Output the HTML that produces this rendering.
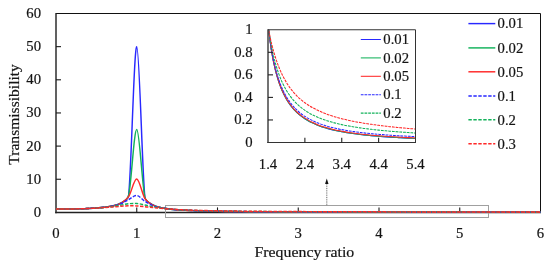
<!DOCTYPE html>
<html><head><meta charset="utf-8"><style>html,body{margin:0;padding:0;background:#fff;width:550px;height:266px;overflow:hidden}svg{display:block}</style></head><body>
<svg width="550" height="266" viewBox="0 0 550 266" font-family='"Liberation Serif", serif' fill="#141414">
<style>text{stroke:#141414;stroke-width:0.2px}</style>
<rect width="550" height="266" fill="#fff"/>
<defs><clipPath id="ic"><rect x="268.0" y="29.75" width="147.5" height="112.75"/></clipPath></defs>
<path d="M56.0,13.5 H540.5 V212.4" fill="none" stroke="#111" stroke-width="1"/>
<line x1="56.0" y1="13.0" x2="56.0" y2="213.20000000000002" stroke="#1e1e1e" stroke-width="1.4"/>
<line x1="55.2" y1="212.4" x2="541.0" y2="212.4" stroke="#222" stroke-width="1.5"/>
<line x1="56.0" y1="179.25" x2="61.0" y2="179.25" stroke="#1a1a1a" stroke-width="1.1"/>
<line x1="56.0" y1="146.10" x2="61.0" y2="146.10" stroke="#1a1a1a" stroke-width="1.1"/>
<line x1="56.0" y1="112.95" x2="61.0" y2="112.95" stroke="#1a1a1a" stroke-width="1.1"/>
<line x1="56.0" y1="79.80" x2="61.0" y2="79.80" stroke="#1a1a1a" stroke-width="1.1"/>
<line x1="56.0" y1="46.65" x2="61.0" y2="46.65" stroke="#1a1a1a" stroke-width="1.1"/>
<line x1="136.75" y1="212.4" x2="136.75" y2="207.4" stroke="#1a1a1a" stroke-width="1.1"/>
<line x1="217.50" y1="212.4" x2="217.50" y2="207.4" stroke="#1a1a1a" stroke-width="1.1"/>
<line x1="298.25" y1="212.4" x2="298.25" y2="207.4" stroke="#1a1a1a" stroke-width="1.1"/>
<line x1="379.00" y1="212.4" x2="379.00" y2="207.4" stroke="#1a1a1a" stroke-width="1.1"/>
<line x1="459.75" y1="212.4" x2="459.75" y2="207.4" stroke="#1a1a1a" stroke-width="1.1"/>
<rect x="165.5" y="205.5" width="323" height="12" fill="none" stroke="#a0a0a0" stroke-width="1"/>
<g><path d="M56.00,209.09 C58.69,209.07 61.38,209.07 64.08,209.05 C66.77,209.03 69.46,209.00 72.15,208.95 C74.84,208.90 77.53,208.84 80.22,208.76 C82.92,208.67 85.61,208.58 88.30,208.45 C90.99,208.32 93.68,208.19 96.38,207.98 C99.07,207.77 101.76,207.57 104.45,207.22 C107.14,206.87 109.83,206.57 112.53,205.90 C115.22,205.23 117.91,205.01 120.60,203.20 C123.29,201.39 128.09,200.74 128.68,195.03 C131.37,168.93 134.06,46.34 136.75,46.62 C139.44,46.89 142.13,170.32 144.82,196.70 C145.41,202.41 150.21,203.06 152.90,204.87 C155.59,206.69 158.28,206.92 160.98,207.60 C163.67,208.28 166.36,208.59 169.05,208.95 C171.74,209.31 174.43,209.53 177.12,209.75 C179.82,209.97 182.51,210.12 185.20,210.27 C187.89,210.42 190.58,210.54 193.28,210.65 C195.97,210.75 198.66,210.84 201.35,210.92 C204.04,211.00 206.73,211.07 209.42,211.13 C212.12,211.19 214.81,211.24 217.50,211.29 C220.19,211.34 222.88,211.39 225.58,211.43 C228.27,211.47 230.96,211.50 233.65,211.54 C236.34,211.57 239.03,211.60 241.72,211.63 C244.42,211.65 247.11,211.68 249.80,211.70 C252.49,211.73 255.18,211.75 257.88,211.77 C260.57,211.79 263.26,211.81 265.95,211.82 C268.64,211.84 271.33,211.86 274.02,211.87 C276.72,211.89 279.41,211.90 282.10,211.91 C284.79,211.93 287.48,211.94 290.17,211.95 C292.87,211.96 295.56,211.97 298.25,211.98 C300.94,212.00 303.63,212.00 306.33,212.01 C309.02,212.02 311.71,212.03 314.40,212.04 C317.09,212.05 319.78,212.06 322.47,212.06 C325.17,212.07 327.86,212.08 330.55,212.09 C333.24,212.09 335.93,212.10 338.62,212.10 C341.32,212.11 344.01,212.12 346.70,212.12 C349.39,212.13 352.08,212.13 354.78,212.14 C357.47,212.14 360.16,212.15 362.85,212.15 C365.54,212.16 368.23,212.16 370.93,212.17 C373.62,212.17 376.31,212.17 379.00,212.18 C381.69,212.18 384.38,212.19 387.07,212.19 C389.77,212.19 392.46,212.20 395.15,212.20 C397.84,212.20 400.53,212.21 403.22,212.21 C405.92,212.21 408.61,212.22 411.30,212.22 C413.99,212.22 416.68,212.22 419.38,212.23 C422.07,212.23 424.76,212.23 427.45,212.23 C430.14,212.24 432.83,212.24 435.53,212.24 C438.22,212.24 440.91,212.25 443.60,212.25 C446.29,212.25 448.98,212.25 451.68,212.26 C454.37,212.26 457.06,212.26 459.75,212.26 C462.44,212.26 465.13,212.26 467.82,212.27 C470.52,212.27 473.21,212.27 475.90,212.27 C478.59,212.27 481.28,212.28 483.97,212.28 C486.67,212.28 489.36,212.28 492.05,212.28 C494.74,212.28 497.43,212.28 500.12,212.29 C502.82,212.29 505.51,212.29 508.20,212.29 C510.89,212.29 513.58,212.29 516.28,212.29 C518.97,212.30 521.66,212.30 524.35,212.30 C527.04,212.30 529.73,212.30 532.42,212.30 C535.12,212.30 537.81,212.30 540.50,212.30" stroke="#2828ff" stroke-width="1.45" fill="none"/>
<path d="M56.00,209.09 C58.69,209.07 61.38,209.07 64.08,209.05 C66.77,209.03 69.46,209.00 72.15,208.95 C74.84,208.90 77.53,208.84 80.22,208.76 C82.92,208.68 85.61,208.58 88.30,208.45 C90.99,208.32 93.68,208.19 96.38,207.98 C99.07,207.78 101.76,207.57 104.45,207.22 C107.14,206.88 109.83,206.57 112.53,205.91 C115.22,205.24 117.91,205.00 120.60,203.22 C123.29,201.45 127.46,200.79 128.68,195.25 C131.37,182.95 134.06,129.18 136.75,129.46 C139.44,129.74 142.13,184.36 144.82,196.93 C146.01,202.48 150.21,203.12 152.90,204.90 C155.59,206.68 158.28,206.93 160.98,207.60 C163.67,208.28 166.36,208.59 169.05,208.95 C171.74,209.30 174.43,209.53 177.12,209.75 C179.82,209.97 182.51,210.12 185.20,210.27 C187.89,210.42 190.58,210.54 193.28,210.64 C195.97,210.75 198.66,210.84 201.35,210.92 C204.04,211.00 206.73,211.06 209.42,211.13 C212.12,211.19 214.81,211.24 217.50,211.29 C220.19,211.34 222.88,211.38 225.58,211.42 C228.27,211.47 230.96,211.50 233.65,211.53 C236.34,211.57 239.03,211.60 241.72,211.62 C244.42,211.65 247.11,211.68 249.80,211.70 C252.49,211.72 255.18,211.75 257.88,211.77 C260.57,211.79 263.26,211.80 265.95,211.82 C268.64,211.84 271.33,211.85 274.02,211.87 C276.72,211.89 279.41,211.90 282.10,211.91 C284.79,211.93 287.48,211.94 290.17,211.95 C292.87,211.96 295.56,211.97 298.25,211.98 C300.94,211.99 303.63,212.00 306.33,212.01 C309.02,212.02 311.71,212.03 314.40,212.04 C317.09,212.05 319.78,212.05 322.47,212.06 C325.17,212.07 327.86,212.08 330.55,212.08 C333.24,212.09 335.93,212.10 338.62,212.10 C341.32,212.11 344.01,212.11 346.70,212.12 C349.39,212.13 352.08,212.13 354.78,212.14 C357.47,212.14 360.16,212.15 362.85,212.15 C365.54,212.16 368.23,212.16 370.93,212.16 C373.62,212.17 376.31,212.17 379.00,212.18 C381.69,212.18 384.38,212.18 387.07,212.19 C389.77,212.19 392.46,212.19 395.15,212.20 C397.84,212.20 400.53,212.20 403.22,212.21 C405.92,212.21 408.61,212.21 411.30,212.22 C413.99,212.22 416.68,212.22 419.38,212.23 C422.07,212.23 424.76,212.23 427.45,212.23 C430.14,212.24 432.83,212.24 435.53,212.24 C438.22,212.24 440.91,212.24 443.60,212.25 C446.29,212.25 448.98,212.25 451.68,212.25 C454.37,212.26 457.06,212.26 459.75,212.26 C462.44,212.26 465.13,212.26 467.82,212.26 C470.52,212.27 473.21,212.27 475.90,212.27 C478.59,212.27 481.28,212.27 483.97,212.27 C486.67,212.28 489.36,212.28 492.05,212.28 C494.74,212.28 497.43,212.28 500.12,212.28 C502.82,212.29 505.51,212.29 508.20,212.29 C510.89,212.29 513.58,212.29 516.28,212.29 C518.97,212.29 521.66,212.29 524.35,212.30 C527.04,212.30 529.73,212.30 532.42,212.30 C535.12,212.30 537.81,212.30 540.50,212.30" stroke="#12b25a" stroke-width="1.45" fill="none"/>
<path d="M56.00,209.09 C58.69,209.07 61.38,209.07 64.08,209.05 C66.77,209.03 69.46,209.00 72.15,208.95 C74.84,208.90 77.53,208.84 80.22,208.76 C82.92,208.68 85.61,208.58 88.30,208.45 C90.99,208.33 93.68,208.19 96.38,207.98 C99.07,207.78 101.76,207.57 104.45,207.23 C107.14,206.89 109.83,206.59 112.53,205.94 C115.22,205.30 117.91,204.94 120.60,203.38 C123.29,201.82 125.98,200.62 128.68,196.57 C131.37,192.52 134.06,178.79 136.75,179.08 C139.44,179.38 142.13,194.00 144.82,198.33 C147.52,202.66 150.21,203.53 152.90,205.08 C155.59,206.63 158.28,206.99 160.98,207.64 C163.67,208.28 166.36,208.60 169.05,208.95 C171.74,209.30 174.43,209.52 177.12,209.74 C179.82,209.96 182.51,210.11 185.20,210.26 C187.89,210.41 190.58,210.52 193.28,210.63 C195.97,210.74 198.66,210.82 201.35,210.90 C204.04,210.98 206.73,211.05 209.42,211.11 C212.12,211.17 214.81,211.23 217.50,211.28 C220.19,211.33 222.88,211.37 225.58,211.41 C228.27,211.45 230.96,211.48 233.65,211.52 C236.34,211.55 239.03,211.58 241.72,211.61 C244.42,211.64 247.11,211.66 249.80,211.68 C252.49,211.71 255.18,211.73 257.88,211.75 C260.57,211.77 263.26,211.79 265.95,211.81 C268.64,211.82 271.33,211.84 274.02,211.85 C276.72,211.87 279.41,211.88 282.10,211.90 C284.79,211.91 287.48,211.92 290.17,211.93 C292.87,211.95 295.56,211.96 298.25,211.97 C300.94,211.98 303.63,211.99 306.33,212.00 C309.02,212.01 311.71,212.02 314.40,212.02 C317.09,212.03 319.78,212.04 322.47,212.05 C325.17,212.05 327.86,212.06 330.55,212.07 C333.24,212.08 335.93,212.08 338.62,212.09 C341.32,212.09 344.01,212.10 346.70,212.11 C349.39,212.11 352.08,212.12 354.78,212.12 C357.47,212.13 360.16,212.13 362.85,212.14 C365.54,212.14 368.23,212.15 370.93,212.15 C373.62,212.15 376.31,212.16 379.00,212.16 C381.69,212.17 384.38,212.17 387.07,212.17 C389.77,212.18 392.46,212.18 395.15,212.18 C397.84,212.19 400.53,212.19 403.22,212.19 C405.92,212.20 408.61,212.20 411.30,212.20 C413.99,212.21 416.68,212.21 419.38,212.21 C422.07,212.21 424.76,212.22 427.45,212.22 C430.14,212.22 432.83,212.22 435.53,212.23 C438.22,212.23 440.91,212.23 443.60,212.23 C446.29,212.24 448.98,212.24 451.68,212.24 C454.37,212.24 457.06,212.24 459.75,212.25 C462.44,212.25 465.13,212.25 467.82,212.25 C470.52,212.25 473.21,212.25 475.90,212.26 C478.59,212.26 481.28,212.26 483.97,212.26 C486.67,212.26 489.36,212.26 492.05,212.27 C494.74,212.27 497.43,212.27 500.12,212.27 C502.82,212.27 505.51,212.27 508.20,212.27 C510.89,212.28 513.58,212.28 516.28,212.28 C518.97,212.28 521.66,212.28 524.35,212.28 C527.04,212.28 529.73,212.29 532.42,212.29 C535.12,212.29 537.81,212.29 540.50,212.29" stroke="#ff2828" stroke-width="1.45" fill="none"/>
<path d="M56.00,209.09 C58.69,209.07 61.38,209.07 64.08,209.05 C66.77,209.03 69.46,209.00 72.15,208.95 C74.84,208.90 77.53,208.84 80.22,208.76 C82.92,208.68 85.61,208.59 88.30,208.46 C90.99,208.33 93.68,208.19 96.38,208.00 C99.07,207.80 101.76,207.59 104.45,207.27 C107.14,206.95 109.83,206.64 112.53,206.07 C115.22,205.51 117.91,204.97 120.60,203.88 C123.29,202.79 125.98,200.93 128.68,199.53 C131.37,198.13 134.06,195.21 136.75,195.50 C139.44,195.78 142.13,199.56 144.82,201.24 C147.52,202.92 150.21,204.51 152.90,205.60 C155.59,206.68 158.28,207.19 160.98,207.75 C163.67,208.31 166.36,208.63 169.05,208.96 C171.74,209.28 174.43,209.50 177.12,209.71 C179.82,209.92 182.51,210.07 185.20,210.21 C187.89,210.36 190.58,210.47 193.28,210.58 C195.97,210.68 198.66,210.77 201.35,210.85 C204.04,210.93 206.73,210.99 209.42,211.06 C212.12,211.12 214.81,211.17 217.50,211.22 C220.19,211.27 222.88,211.31 225.58,211.35 C228.27,211.39 230.96,211.43 233.65,211.46 C236.34,211.50 239.03,211.53 241.72,211.55 C244.42,211.58 247.11,211.61 249.80,211.63 C252.49,211.66 255.18,211.68 257.88,211.70 C260.57,211.72 263.26,211.74 265.95,211.75 C268.64,211.77 271.33,211.79 274.02,211.80 C276.72,211.82 279.41,211.83 282.10,211.85 C284.79,211.86 287.48,211.87 290.17,211.88 C292.87,211.90 295.56,211.91 298.25,211.92 C300.94,211.93 303.63,211.94 306.33,211.95 C309.02,211.96 311.71,211.97 314.40,211.98 C317.09,211.98 319.78,211.99 322.47,212.00 C325.17,212.01 327.86,212.01 330.55,212.02 C333.24,212.03 335.93,212.03 338.62,212.04 C341.32,212.05 344.01,212.05 346.70,212.06 C349.39,212.06 352.08,212.07 354.78,212.08 C357.47,212.08 360.16,212.09 362.85,212.09 C365.54,212.10 368.23,212.10 370.93,212.10 C373.62,212.11 376.31,212.11 379.00,212.12 C381.69,212.12 384.38,212.13 387.07,212.13 C389.77,212.13 392.46,212.14 395.15,212.14 C397.84,212.14 400.53,212.15 403.22,212.15 C405.92,212.15 408.61,212.16 411.30,212.16 C413.99,212.16 416.68,212.17 419.38,212.17 C422.07,212.17 424.76,212.17 427.45,212.18 C430.14,212.18 432.83,212.18 435.53,212.18 C438.22,212.19 440.91,212.19 443.60,212.19 C446.29,212.19 448.98,212.20 451.68,212.20 C454.37,212.20 457.06,212.20 459.75,212.20 C462.44,212.21 465.13,212.21 467.82,212.21 C470.52,212.21 473.21,212.21 475.90,212.22 C478.59,212.22 481.28,212.22 483.97,212.22 C486.67,212.22 489.36,212.23 492.05,212.23 C494.74,212.23 497.43,212.23 500.12,212.23 C502.82,212.23 505.51,212.23 508.20,212.24 C510.89,212.24 513.58,212.24 516.28,212.24 C518.97,212.24 521.66,212.24 524.35,212.24 C527.04,212.25 529.73,212.25 532.42,212.25 C535.12,212.25 537.81,212.25 540.50,212.25" stroke="#2828ff" stroke-width="1.45" fill="none" stroke-dasharray="3.4,1.55"/>
<path d="M56.00,209.09 C58.69,209.07 61.38,209.07 64.08,209.05 C66.77,209.03 69.46,209.00 72.15,208.95 C74.84,208.90 77.53,208.84 80.22,208.76 C82.92,208.68 85.61,208.59 88.30,208.47 C90.99,208.35 93.68,208.22 96.38,208.04 C99.07,207.87 101.76,207.67 104.45,207.41 C107.14,207.15 109.83,206.86 112.53,206.48 C115.22,206.11 117.91,205.63 120.60,205.17 C123.29,204.72 125.98,204.03 128.68,203.74 C131.37,203.46 134.06,203.27 136.75,203.47 C139.44,203.68 142.13,204.43 144.82,204.97 C147.52,205.52 150.21,206.24 152.90,206.75 C155.59,207.27 158.28,207.70 160.98,208.08 C163.67,208.45 166.36,208.73 169.05,208.98 C171.74,209.24 174.43,209.43 177.12,209.61 C179.82,209.79 182.51,209.93 185.20,210.07 C187.89,210.20 190.58,210.30 193.28,210.40 C195.97,210.50 198.66,210.59 201.35,210.66 C204.04,210.74 206.73,210.81 209.42,210.87 C212.12,210.93 214.81,210.98 217.50,211.03 C220.19,211.08 222.88,211.13 225.58,211.17 C228.27,211.21 230.96,211.24 233.65,211.28 C236.34,211.31 239.03,211.34 241.72,211.37 C244.42,211.40 247.11,211.43 249.80,211.45 C252.49,211.48 255.18,211.50 257.88,211.52 C260.57,211.54 263.26,211.56 265.95,211.58 C268.64,211.60 271.33,211.62 274.02,211.64 C276.72,211.65 279.41,211.67 282.10,211.68 C284.79,211.70 287.48,211.71 290.17,211.72 C292.87,211.74 295.56,211.75 298.25,211.76 C300.94,211.77 303.63,211.78 306.33,211.79 C309.02,211.80 311.71,211.81 314.40,211.82 C317.09,211.83 319.78,211.84 322.47,211.85 C325.17,211.86 327.86,211.87 330.55,211.87 C333.24,211.88 335.93,211.89 338.62,211.90 C341.32,211.90 344.01,211.91 346.70,211.92 C349.39,211.92 352.08,211.93 354.78,211.94 C357.47,211.94 360.16,211.95 362.85,211.95 C365.54,211.96 368.23,211.97 370.93,211.97 C373.62,211.98 376.31,211.98 379.00,211.99 C381.69,211.99 384.38,211.99 387.07,212.00 C389.77,212.00 392.46,212.01 395.15,212.01 C397.84,212.02 400.53,212.02 403.22,212.02 C405.92,212.03 408.61,212.03 411.30,212.04 C413.99,212.04 416.68,212.04 419.38,212.05 C422.07,212.05 424.76,212.05 427.45,212.06 C430.14,212.06 432.83,212.06 435.53,212.07 C438.22,212.07 440.91,212.07 443.60,212.08 C446.29,212.08 448.98,212.08 451.68,212.08 C454.37,212.09 457.06,212.09 459.75,212.09 C462.44,212.09 465.13,212.10 467.82,212.10 C470.52,212.10 473.21,212.10 475.90,212.11 C478.59,212.11 481.28,212.11 483.97,212.11 C486.67,212.12 489.36,212.12 492.05,212.12 C494.74,212.12 497.43,212.12 500.12,212.13 C502.82,212.13 505.51,212.13 508.20,212.13 C510.89,212.13 513.58,212.14 516.28,212.14 C518.97,212.14 521.66,212.14 524.35,212.14 C527.04,212.15 529.73,212.15 532.42,212.15 C535.12,212.15 537.81,212.15 540.50,212.15" stroke="#12b25a" stroke-width="1.45" fill="none" stroke-dasharray="3.4,1.55"/>
<path d="M56.00,209.09 C58.69,209.07 61.38,209.07 64.08,209.05 C66.77,209.03 69.46,209.00 72.15,208.95 C74.84,208.90 77.53,208.84 80.22,208.77 C82.92,208.69 85.61,208.61 88.30,208.50 C90.99,208.39 93.68,208.26 96.38,208.12 C99.07,207.97 101.76,207.79 104.45,207.60 C107.14,207.41 109.83,207.18 112.53,206.96 C115.22,206.74 117.91,206.46 120.60,206.27 C123.29,206.08 125.98,205.87 128.68,205.82 C131.37,205.77 134.06,205.82 136.75,205.96 C139.44,206.10 142.13,206.40 144.82,206.67 C147.52,206.93 150.21,207.28 152.90,207.56 C155.59,207.84 158.28,208.12 160.98,208.36 C163.67,208.60 166.36,208.82 169.05,209.01 C171.74,209.20 174.43,209.36 177.12,209.50 C179.82,209.65 182.51,209.78 185.20,209.89 C187.89,210.01 190.58,210.10 193.28,210.20 C195.97,210.29 198.66,210.36 201.35,210.44 C204.04,210.51 206.73,210.58 209.42,210.63 C212.12,210.69 214.81,210.75 217.50,210.80 C220.19,210.85 222.88,210.89 225.58,210.93 C228.27,210.97 230.96,211.01 233.65,211.05 C236.34,211.08 239.03,211.12 241.72,211.15 C244.42,211.18 247.11,211.20 249.80,211.23 C252.49,211.26 255.18,211.28 257.88,211.31 C260.57,211.33 263.26,211.35 265.95,211.37 C268.64,211.39 271.33,211.41 274.02,211.43 C276.72,211.45 279.41,211.46 282.10,211.48 C284.79,211.50 287.48,211.51 290.17,211.53 C292.87,211.54 295.56,211.55 298.25,211.57 C300.94,211.58 303.63,211.59 306.33,211.61 C309.02,211.62 311.71,211.63 314.40,211.64 C317.09,211.65 319.78,211.66 322.47,211.67 C325.17,211.68 327.86,211.69 330.55,211.70 C333.24,211.71 335.93,211.72 338.62,211.73 C341.32,211.73 344.01,211.74 346.70,211.75 C349.39,211.76 352.08,211.77 354.78,211.77 C357.47,211.78 360.16,211.79 362.85,211.79 C365.54,211.80 368.23,211.81 370.93,211.81 C373.62,211.82 376.31,211.83 379.00,211.83 C381.69,211.84 384.38,211.84 387.07,211.85 C389.77,211.86 392.46,211.86 395.15,211.87 C397.84,211.87 400.53,211.88 403.22,211.88 C405.92,211.89 408.61,211.89 411.30,211.90 C413.99,211.90 416.68,211.90 419.38,211.91 C422.07,211.91 424.76,211.92 427.45,211.92 C430.14,211.93 432.83,211.93 435.53,211.93 C438.22,211.94 440.91,211.94 443.60,211.95 C446.29,211.95 448.98,211.95 451.68,211.96 C454.37,211.96 457.06,211.96 459.75,211.97 C462.44,211.97 465.13,211.97 467.82,211.98 C470.52,211.98 473.21,211.98 475.90,211.99 C478.59,211.99 481.28,211.99 483.97,211.99 C486.67,212.00 489.36,212.00 492.05,212.00 C494.74,212.01 497.43,212.01 500.12,212.01 C502.82,212.01 505.51,212.02 508.20,212.02 C510.89,212.02 513.58,212.02 516.28,212.03 C518.97,212.03 521.66,212.03 524.35,212.03 C527.04,212.04 529.73,212.04 532.42,212.04 C535.12,212.04 537.81,212.05 540.50,212.05" stroke="#ff2828" stroke-width="1.45" fill="none" stroke-dasharray="3.4,1.55"/></g>
<line x1="326.8" y1="205.2" x2="326.8" y2="183" stroke="#6a6a6a" stroke-width="1" stroke-dasharray="1,0.8"/>
<path d="M326.8,178.6 L325.1,184.1 L328.5,184.1 Z" fill="#111"/>
<text x="41.00" y="216.90" text-anchor="end" font-size="14.7">0</text>
<text x="41.00" y="183.75" text-anchor="end" font-size="14.7">10</text>
<text x="41.00" y="150.60" text-anchor="end" font-size="14.7">20</text>
<text x="41.00" y="117.45" text-anchor="end" font-size="14.7">30</text>
<text x="41.00" y="84.30" text-anchor="end" font-size="14.7">40</text>
<text x="41.00" y="51.15" text-anchor="end" font-size="14.7">50</text>
<text x="41.00" y="18.00" text-anchor="end" font-size="14.7">60</text>
<text x="56.00" y="238.20" text-anchor="middle" font-size="14.7">0</text>
<text x="136.75" y="238.20" text-anchor="middle" font-size="14.7">1</text>
<text x="217.50" y="238.20" text-anchor="middle" font-size="14.7">2</text>
<text x="298.25" y="238.20" text-anchor="middle" font-size="14.7">3</text>
<text x="379.00" y="238.20" text-anchor="middle" font-size="14.7">4</text>
<text x="459.75" y="238.20" text-anchor="middle" font-size="14.7">5</text>
<text x="540.50" y="238.20" text-anchor="middle" font-size="14.7">6</text>
<text transform="translate(304.4,256.8) scale(1.078,1)" x="0" y="0" text-anchor="middle" font-size="14.7">Frequency ratio</text>
<text transform="translate(18.6,114.4) rotate(-90) scale(1.06,1)" x="0" y="0" text-anchor="middle" font-size="14.7">Transmissibility</text>
<line x1="468.4" y1="23.60" x2="495.3" y2="23.60" stroke="#2828ff" stroke-width="1.45"/>
<text x="497.60" y="28.40" font-size="14.7">0.01</text>
<line x1="468.4" y1="47.90" x2="495.3" y2="47.90" stroke="#12b25a" stroke-width="1.45"/>
<text x="497.60" y="52.70" font-size="14.7">0.02</text>
<line x1="468.4" y1="71.80" x2="495.3" y2="71.80" stroke="#ff2828" stroke-width="1.45"/>
<text x="497.60" y="76.60" font-size="14.7">0.05</text>
<line x1="468.4" y1="96.00" x2="495.3" y2="96.00" stroke="#2828ff" stroke-width="1.45" stroke-dasharray="3.4,1.55"/>
<text x="497.60" y="100.80" font-size="14.7">0.1</text>
<line x1="468.4" y1="119.80" x2="495.3" y2="119.80" stroke="#12b25a" stroke-width="1.45" stroke-dasharray="3.4,1.55"/>
<text x="497.60" y="124.60" font-size="14.7">0.2</text>
<line x1="468.4" y1="143.80" x2="495.3" y2="143.80" stroke="#ff2828" stroke-width="1.45" stroke-dasharray="3.4,1.55"/>
<text x="497.60" y="148.60" font-size="14.7">0.3</text>
<g clip-path="url(#ic)"><path d="M268.00,25.06 C269.23,34.13 270.46,44.76 271.69,52.29 C272.92,59.81 274.15,65.11 275.38,70.20 C276.60,75.29 277.83,79.16 279.06,82.82 C280.29,86.48 281.52,89.40 282.75,92.14 C283.98,94.88 285.21,97.15 286.44,99.27 C287.67,101.40 288.90,103.20 290.12,104.89 C291.35,106.58 292.58,108.04 293.81,109.41 C295.04,110.78 296.27,111.98 297.50,113.11 C298.73,114.24 299.96,115.25 301.19,116.19 C302.42,117.14 303.65,117.99 304.88,118.79 C306.10,119.59 307.33,120.31 308.56,121.00 C309.79,121.68 311.02,122.31 312.25,122.90 C313.48,123.49 314.71,124.03 315.94,124.55 C317.17,125.06 318.40,125.54 319.62,125.99 C320.85,126.44 322.08,126.86 323.31,127.26 C324.54,127.66 325.77,128.03 327.00,128.38 C328.23,128.73 329.46,129.06 330.69,129.38 C331.92,129.70 333.15,129.99 334.38,130.27 C335.60,130.56 336.83,130.82 338.06,131.08 C339.29,131.33 340.52,131.57 341.75,131.80 C342.98,132.03 344.21,132.25 345.44,132.45 C346.67,132.66 347.90,132.86 349.12,133.05 C350.35,133.24 351.58,133.42 352.81,133.59 C354.04,133.76 355.27,133.93 356.50,134.09 C357.73,134.25 358.96,134.40 360.19,134.54 C361.42,134.69 362.65,134.83 363.88,134.96 C365.10,135.09 366.33,135.22 367.56,135.34 C368.79,135.47 370.02,135.59 371.25,135.70 C372.48,135.81 373.71,135.92 374.94,136.03 C376.17,136.14 377.40,136.24 378.62,136.34 C379.85,136.43 381.08,136.53 382.31,136.62 C383.54,136.71 384.77,136.80 386.00,136.88 C387.23,136.97 388.46,137.05 389.69,137.13 C390.92,137.21 392.15,137.29 393.38,137.36 C394.60,137.44 395.83,137.51 397.06,137.58 C398.29,137.65 399.52,137.71 400.75,137.78 C401.98,137.84 403.21,137.91 404.44,137.97 C405.67,138.03 406.90,138.09 408.12,138.15 C409.35,138.20 410.58,138.26 411.81,138.31 C413.04,138.37 414.27,138.42 415.50,138.47" stroke="#2828ff" stroke-width="1.05" fill="none"/>
<path d="M268.00,25.07 C269.23,34.13 270.46,44.73 271.69,52.24 C272.92,59.75 274.15,65.05 275.38,70.14 C276.60,75.22 277.83,79.09 279.06,82.74 C280.29,86.40 281.52,89.32 282.75,92.06 C283.98,94.80 285.21,97.07 286.44,99.19 C287.67,101.32 288.90,103.12 290.12,104.81 C291.35,106.50 292.58,107.96 293.81,109.33 C295.04,110.70 296.27,111.90 297.50,113.03 C298.73,114.16 299.96,115.17 301.19,116.11 C302.42,117.06 303.65,117.91 304.88,118.71 C306.10,119.51 307.33,120.23 308.56,120.92 C309.79,121.61 311.02,122.23 312.25,122.82 C313.48,123.42 314.71,123.96 315.94,124.47 C317.17,124.99 318.40,125.46 319.62,125.92 C320.85,126.37 322.08,126.79 323.31,127.18 C324.54,127.58 325.77,127.95 327.00,128.31 C328.23,128.66 329.46,128.99 330.69,129.31 C331.92,129.62 333.15,129.92 334.38,130.20 C335.60,130.48 336.83,130.75 338.06,131.00 C339.29,131.26 340.52,131.50 341.75,131.73 C342.98,131.96 344.21,132.17 345.44,132.38 C346.67,132.59 347.90,132.79 349.12,132.98 C350.35,133.17 351.58,133.35 352.81,133.52 C354.04,133.69 355.27,133.86 356.50,134.02 C357.73,134.17 358.96,134.32 360.19,134.47 C361.42,134.62 362.65,134.75 363.88,134.89 C365.10,135.02 366.33,135.15 367.56,135.27 C368.79,135.40 370.02,135.52 371.25,135.63 C372.48,135.74 373.71,135.85 374.94,135.96 C376.17,136.06 377.40,136.17 378.62,136.26 C379.85,136.36 381.08,136.46 382.31,136.55 C383.54,136.64 384.77,136.73 386.00,136.81 C387.23,136.90 388.46,136.98 389.69,137.06 C390.92,137.14 392.15,137.22 393.38,137.29 C394.60,137.37 395.83,137.44 397.06,137.51 C398.29,137.58 399.52,137.64 400.75,137.71 C401.98,137.77 403.21,137.84 404.44,137.90 C405.67,137.96 406.90,138.02 408.12,138.08 C409.35,138.14 410.58,138.19 411.81,138.25 C413.04,138.30 414.27,138.35 415.50,138.40" stroke="#12b25a" stroke-width="1.05" fill="none"/>
<path d="M268.00,25.15 C269.23,34.08 270.46,44.52 271.69,51.94 C272.92,59.36 274.15,64.64 275.38,69.69 C276.60,74.74 277.83,78.59 279.06,82.23 C280.29,85.87 281.52,88.79 282.75,91.52 C283.98,94.26 285.21,96.52 286.44,98.64 C287.67,100.77 288.90,102.57 290.12,104.26 C291.35,105.95 292.58,107.41 293.81,108.78 C295.04,110.15 296.27,111.35 297.50,112.49 C298.73,113.62 299.96,114.62 301.19,115.57 C302.42,116.52 303.65,117.37 304.88,118.17 C306.10,118.97 307.33,119.70 308.56,120.39 C309.79,121.08 311.02,121.70 312.25,122.30 C313.48,122.89 314.71,123.43 315.94,123.95 C317.17,124.47 318.40,124.94 319.62,125.40 C320.85,125.85 322.08,126.27 323.31,126.67 C324.54,127.07 325.77,127.44 327.00,127.80 C328.23,128.15 329.46,128.48 330.69,128.80 C331.92,129.12 333.15,129.41 334.38,129.70 C335.60,129.98 336.83,130.25 338.06,130.50 C339.29,130.76 340.52,131.00 341.75,131.23 C342.98,131.46 344.21,131.68 345.44,131.89 C346.67,132.10 347.90,132.29 349.12,132.48 C350.35,132.68 351.58,132.86 352.81,133.03 C354.04,133.20 355.27,133.37 356.50,133.53 C357.73,133.69 358.96,133.84 360.19,133.99 C361.42,134.13 362.65,134.27 363.88,134.41 C365.10,134.54 366.33,134.67 367.56,134.79 C368.79,134.92 370.02,135.04 371.25,135.15 C372.48,135.27 373.71,135.38 374.94,135.48 C376.17,135.59 377.40,135.69 378.62,135.79 C379.85,135.89 381.08,135.99 382.31,136.08 C383.54,136.17 384.77,136.26 386.00,136.35 C387.23,136.43 388.46,136.51 389.69,136.59 C390.92,136.67 392.15,136.75 393.38,136.83 C394.60,136.90 395.83,136.97 397.06,137.04 C398.29,137.11 399.52,137.18 400.75,137.25 C401.98,137.31 403.21,137.38 404.44,137.44 C405.67,137.50 406.90,137.56 408.12,137.62 C409.35,137.68 410.58,137.74 411.81,137.79 C413.04,137.85 414.27,137.90 415.50,137.95" stroke="#ff2828" stroke-width="1.05" fill="none"/>
<path d="M268.00,25.41 C269.23,33.92 270.46,43.80 271.69,50.93 C272.92,58.05 274.15,63.24 275.38,68.16 C276.60,73.09 277.83,76.90 279.06,80.49 C280.29,84.07 281.52,86.97 282.75,89.68 C283.98,92.39 285.21,94.65 286.44,96.77 C287.67,98.89 288.90,100.69 290.12,102.38 C291.35,104.07 292.58,105.53 293.81,106.91 C295.04,108.28 296.27,109.49 297.50,110.63 C298.73,111.77 299.96,112.78 301.19,113.74 C302.42,114.69 303.65,115.55 304.88,116.36 C306.10,117.17 307.33,117.90 308.56,118.60 C309.79,119.29 311.02,119.93 312.25,120.53 C313.48,121.13 314.71,121.68 315.94,122.20 C317.17,122.73 318.40,123.21 319.62,123.67 C320.85,124.13 322.08,124.56 323.31,124.96 C324.54,125.37 325.77,125.75 327.00,126.11 C328.23,126.47 329.46,126.81 330.69,127.13 C331.92,127.45 333.15,127.76 334.38,128.05 C335.60,128.34 336.83,128.61 338.06,128.87 C339.29,129.13 340.52,129.38 341.75,129.61 C342.98,129.85 344.21,130.08 345.44,130.29 C346.67,130.50 347.90,130.71 349.12,130.90 C350.35,131.10 351.58,131.29 352.81,131.47 C354.04,131.64 355.27,131.82 356.50,131.98 C357.73,132.14 358.96,132.30 360.19,132.45 C361.42,132.60 362.65,132.75 363.88,132.89 C365.10,133.03 366.33,133.16 367.56,133.29 C368.79,133.42 370.02,133.54 371.25,133.66 C372.48,133.78 373.71,133.90 374.94,134.01 C376.17,134.12 377.40,134.23 378.62,134.33 C379.85,134.43 381.08,134.53 382.31,134.63 C383.54,134.73 384.77,134.82 386.00,134.91 C387.23,135.00 388.46,135.09 389.69,135.17 C390.92,135.25 392.15,135.34 393.38,135.42 C394.60,135.49 395.83,135.57 397.06,135.65 C398.29,135.72 399.52,135.79 400.75,135.86 C401.98,135.93 403.21,136.00 404.44,136.07 C405.67,136.13 406.90,136.20 408.12,136.26 C409.35,136.32 410.58,136.38 411.81,136.44 C413.04,136.50 414.27,136.55 415.50,136.61" stroke="#2828ff" stroke-width="1.05" fill="none" stroke-dasharray="2.75,0.95"/>
<path d="M268.00,26.23 C269.23,33.37 270.46,41.52 271.69,47.67 C272.92,53.82 274.15,58.62 275.38,63.11 C276.60,67.60 277.83,71.23 279.06,74.62 C280.29,78.01 281.52,80.82 282.75,83.45 C283.98,86.08 285.21,88.31 286.44,90.40 C287.67,92.49 288.90,94.30 290.12,95.99 C291.35,97.69 292.58,99.17 293.81,100.57 C295.04,101.97 296.27,103.21 297.50,104.38 C298.73,105.54 299.96,106.59 301.19,107.58 C302.42,108.57 303.65,109.47 304.88,110.31 C306.10,111.16 307.33,111.93 308.56,112.66 C309.79,113.40 311.02,114.07 312.25,114.71 C313.48,115.35 314.71,115.94 315.94,116.50 C317.17,117.06 318.40,117.58 319.62,118.08 C320.85,118.57 322.08,119.03 323.31,119.48 C324.54,119.92 325.77,120.33 327.00,120.73 C328.23,121.12 329.46,121.50 330.69,121.85 C331.92,122.21 333.15,122.54 334.38,122.87 C335.60,123.19 336.83,123.49 338.06,123.79 C339.29,124.08 340.52,124.36 341.75,124.62 C342.98,124.89 344.21,125.14 345.44,125.39 C346.67,125.63 347.90,125.87 349.12,126.09 C350.35,126.32 351.58,126.53 352.81,126.74 C354.04,126.94 355.27,127.14 356.50,127.33 C357.73,127.52 358.96,127.71 360.19,127.89 C361.42,128.06 362.65,128.23 363.88,128.40 C365.10,128.56 366.33,128.72 367.56,128.87 C368.79,129.03 370.02,129.18 371.25,129.32 C372.48,129.46 373.71,129.60 374.94,129.74 C376.17,129.87 377.40,130.00 378.62,130.13 C379.85,130.25 381.08,130.37 382.31,130.49 C383.54,130.61 384.77,130.72 386.00,130.84 C387.23,130.95 388.46,131.06 389.69,131.16 C390.92,131.27 392.15,131.37 393.38,131.47 C394.60,131.57 395.83,131.66 397.06,131.76 C398.29,131.85 399.52,131.94 400.75,132.03 C401.98,132.12 403.21,132.21 404.44,132.29 C405.67,132.38 406.90,132.46 408.12,132.54 C409.35,132.62 410.58,132.70 411.81,132.77 C413.04,132.85 414.27,132.92 415.50,133.00" stroke="#12b25a" stroke-width="1.05" fill="none" stroke-dasharray="2.75,0.95"/>
<path d="M268.00,27.07 C269.23,32.72 270.46,39.00 271.69,44.02 C272.92,49.04 274.15,53.26 275.38,57.17 C276.60,61.09 277.83,64.41 279.06,67.51 C280.29,70.61 281.52,73.27 282.75,75.77 C283.98,78.26 285.21,80.43 286.44,82.47 C287.67,84.51 288.90,86.30 290.12,87.99 C291.35,89.68 292.58,91.19 293.81,92.61 C295.04,94.03 296.27,95.31 297.50,96.52 C298.73,97.73 299.96,98.82 301.19,99.86 C302.42,100.90 303.65,101.85 304.88,102.75 C306.10,103.65 307.33,104.48 308.56,105.27 C309.79,106.06 311.02,106.79 312.25,107.49 C313.48,108.19 314.71,108.83 315.94,109.45 C317.17,110.07 318.40,110.65 319.62,111.20 C320.85,111.76 322.08,112.27 323.31,112.77 C324.54,113.27 325.77,113.74 327.00,114.19 C328.23,114.64 329.46,115.06 330.69,115.47 C331.92,115.88 333.15,116.26 334.38,116.64 C335.60,117.01 336.83,117.36 338.06,117.70 C339.29,118.04 340.52,118.37 341.75,118.68 C342.98,119.00 344.21,119.30 345.44,119.58 C346.67,119.87 347.90,120.15 349.12,120.42 C350.35,120.69 351.58,120.94 352.81,121.19 C354.04,121.44 355.27,121.68 356.50,121.91 C357.73,122.14 358.96,122.36 360.19,122.58 C361.42,122.79 362.65,123.00 363.88,123.20 C365.10,123.40 366.33,123.60 367.56,123.79 C368.79,123.98 370.02,124.16 371.25,124.34 C372.48,124.51 373.71,124.69 374.94,124.85 C376.17,125.02 377.40,125.18 378.62,125.34 C379.85,125.50 381.08,125.65 382.31,125.80 C383.54,125.95 384.77,126.09 386.00,126.23 C387.23,126.37 388.46,126.51 389.69,126.65 C390.92,126.78 392.15,126.91 393.38,127.04 C394.60,127.16 395.83,127.29 397.06,127.41 C398.29,127.53 399.52,127.64 400.75,127.76 C401.98,127.87 403.21,127.99 404.44,128.09 C405.67,128.20 406.90,128.31 408.12,128.41 C409.35,128.52 410.58,128.62 411.81,128.72 C413.04,128.82 414.27,128.92 415.50,129.01" stroke="#ff2828" stroke-width="1.05" fill="none" stroke-dasharray="2.75,0.95"/></g>
<path d="M268.0,29.75 H415.5 V142.5" fill="none" stroke="#333" stroke-width="1"/>
<line x1="268.0" y1="29.25" x2="268.0" y2="143.1" stroke="#444" stroke-width="1.5"/>
<line x1="267.3" y1="142.5" x2="416.0" y2="142.5" stroke="#333" stroke-width="1.2"/>
<line x1="268.0" y1="119.95" x2="273.0" y2="119.95" stroke="#222" stroke-width="1.1"/>
<line x1="268.0" y1="97.40" x2="273.0" y2="97.40" stroke="#222" stroke-width="1.1"/>
<line x1="268.0" y1="74.85" x2="273.0" y2="74.85" stroke="#222" stroke-width="1.1"/>
<line x1="268.0" y1="52.30" x2="273.0" y2="52.30" stroke="#222" stroke-width="1.1"/>
<line x1="304.88" y1="142.5" x2="304.88" y2="137.7" stroke="#222" stroke-width="1.1"/>
<line x1="341.75" y1="142.5" x2="341.75" y2="137.7" stroke="#222" stroke-width="1.1"/>
<line x1="378.62" y1="142.5" x2="378.62" y2="137.7" stroke="#222" stroke-width="1.1"/>
<text x="252.50" y="146.80" text-anchor="end" font-size="14.7">0</text>
<text x="252.50" y="124.25" text-anchor="end" font-size="14.7">0.2</text>
<text x="252.50" y="101.70" text-anchor="end" font-size="14.7">0.4</text>
<text x="252.50" y="79.15" text-anchor="end" font-size="14.7">0.6</text>
<text x="252.50" y="56.60" text-anchor="end" font-size="14.7">0.8</text>
<text x="252.50" y="34.05" text-anchor="end" font-size="14.7">1</text>
<text x="268.00" y="168.70" text-anchor="middle" font-size="14.7">1.4</text>
<text x="304.88" y="168.70" text-anchor="middle" font-size="14.7">2.4</text>
<text x="341.75" y="168.70" text-anchor="middle" font-size="14.7">3.4</text>
<text x="378.62" y="168.70" text-anchor="middle" font-size="14.7">4.4</text>
<text x="415.50" y="168.70" text-anchor="middle" font-size="14.7">5.4</text>
<line x1="360.8" y1="39.50" x2="380.9" y2="39.50" stroke="#2828ff" stroke-width="1.05"/>
<text x="383.30" y="44.10" font-size="14.7">0.01</text>
<line x1="360.8" y1="57.90" x2="380.9" y2="57.90" stroke="#12b25a" stroke-width="1.05"/>
<text x="383.30" y="62.50" font-size="14.7">0.02</text>
<line x1="360.8" y1="76.30" x2="380.9" y2="76.30" stroke="#ff2828" stroke-width="1.05"/>
<text x="383.30" y="80.90" font-size="14.7">0.05</text>
<line x1="360.8" y1="94.70" x2="380.9" y2="94.70" stroke="#2828ff" stroke-width="1.05" stroke-dasharray="2.75,0.95"/>
<text x="383.30" y="99.30" font-size="14.7">0.1</text>
<line x1="360.8" y1="113.10" x2="380.9" y2="113.10" stroke="#12b25a" stroke-width="1.05" stroke-dasharray="2.75,0.95"/>
<text x="383.30" y="117.70" font-size="14.7">0.2</text>
</svg>
</body></html>
